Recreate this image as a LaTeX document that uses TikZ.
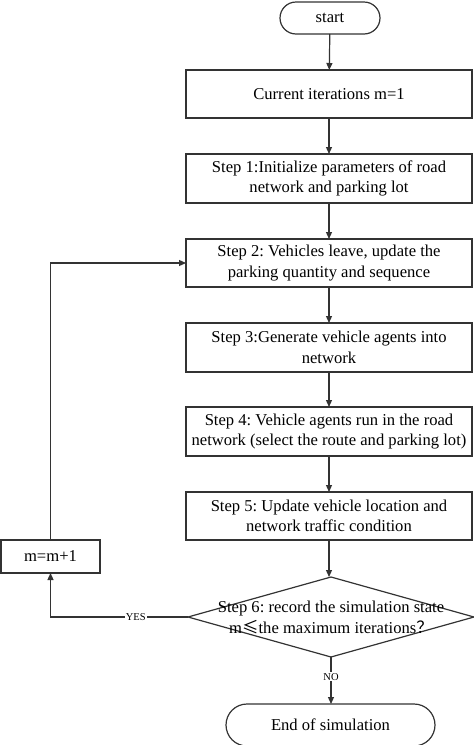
\documentclass[tikz,border=0pt]{standalone}
\usepackage{fontspec}
\setmainfont{Liberation Serif}
\newfontfamily\cjk{Noto Sans CJK SC}
\usetikzlibrary{shapes.geometric,arrows.meta}
\frenchspacing
\begin{document}
\begin{tikzpicture}[x=1pt,y=-1pt,
  every node/.style={font=\fontsize{16.6}{20.5}\selectfont, inner sep=0pt, outer sep=0pt},
  box/.style={draw=black!80, line width=1.2pt, minimum width=286pt, minimum height=48pt, align=center},
  term/.style={draw=black!80, line width=1.2pt, rounded corners=16pt},
  flow/.style={draw=black!80, line width=1.2pt, -{Triangle[length=7pt,width=6pt]}},
  lbl/.style={fill=white, font=\fontsize{10.5}{12}\selectfont, inner sep=1pt}
]
\useasboundingbox (0,0) rectangle (474,745);
\node[term, minimum width=100pt, minimum height=32pt] (start) at (330,18) {start};
\node[box] (cur) at (329,94) {Current iterations m=1};
\node[box, minimum height=49pt] (s1) at (329,178.5) {Step 1:Initialize parameters of road\\network and parking lot};
\node[box] (s2) at (329,263) {Step 2: Vehicles leave, update the\\parking quantity and sequence};
\node[box, minimum height=49pt] (s3) at (329,347.5) {Step 3:Generate vehicle agents into\\network};
\node[box, minimum height=49pt] (s4) at (329,431.5) {Step 4: Vehicle agents run in the road\\network (select the route and parking lot)};
\node[box] (s5) at (329,516) {Step 5: Update vehicle location and\\network traffic condition};
\node[draw=black!80, line width=1.2pt, diamond, minimum width=286pt, minimum height=80pt] (dia) at (331,617) {};
\node[align=center] (diat) at (331,617.5) {Step 6: record the simulation state\\m{\cjk ≤}the maximum iterations{\cjk ？}};
\node[draw=black!80, line width=1.2pt, minimum width=99pt, minimum height=33pt] (mm) at (50.5,556.5) {m=m+1};
\node[term, rounded corners=21pt, minimum width=209pt, minimum height=42pt] (end) at (330.5,725) {End of simulation};
\draw[flow] (start) -- (cur);
\draw[flow] (cur) -- (s1);
\draw[flow] (s1) -- (s2);
\draw[flow] (s2) -- (s3);
\draw[flow] (s3) -- (s4);
\draw[flow] (s4) -- (s5);
\draw[flow] (s5.south) -- (s5.south |- dia.north);
\draw[flow] (dia.south) -- node[lbl, pos=0.42] (no) {NO} (dia.south |- end.north);
\draw[flow] (dia.west) -- node[lbl, pos=0.38] (yes) {YES} (mm.south |- dia.west) -- (mm.south);
\draw[flow] (mm.north) -- (mm.north |- s2.west) -- (s2.west);
\end{tikzpicture}
\end{document}
